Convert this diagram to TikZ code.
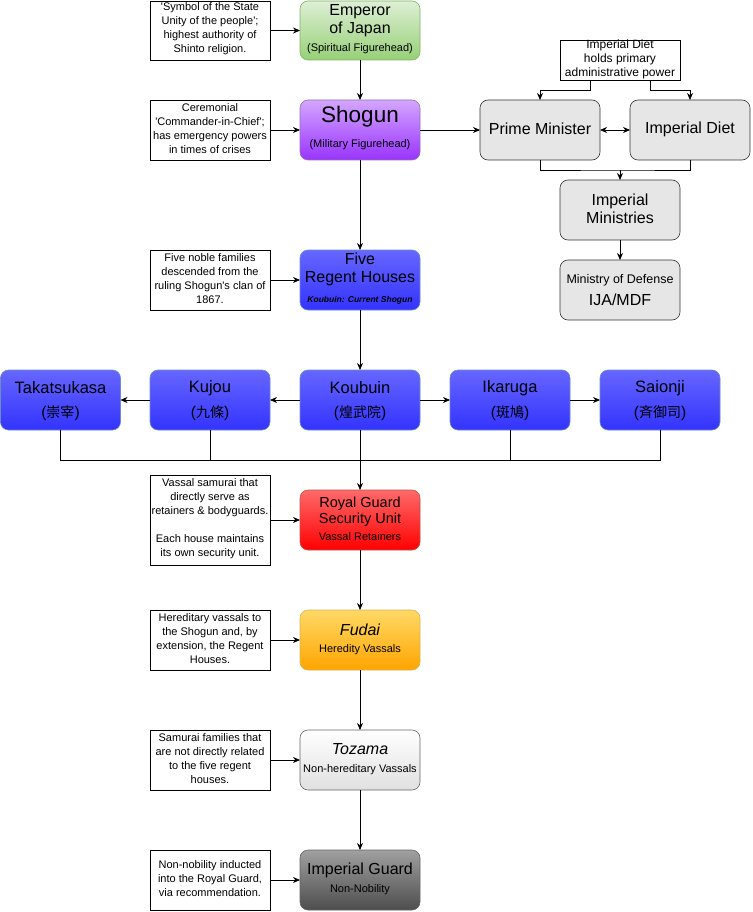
\documentclass[tikz,border=0pt]{standalone}
\usepackage{fontspec}
\setmainfont{Liberation Sans}
\newfontfamily\qfont{Liberation Sans}
\newfontfamily\cjk{Noto Sans CJK JP}
\usetikzlibrary{arrows.meta}
\definecolor{gTop}{HTML}{DDEFD5}
\definecolor{gBot}{HTML}{97D077}
\definecolor{gBrd}{HTML}{82B366}
\definecolor{pTop}{HTML}{D4A6FF}
\definecolor{pBot}{HTML}{9933FF}
\definecolor{pBrd}{HTML}{9673A6}
\definecolor{bTop}{HTML}{6666FF}
\definecolor{bBot}{HTML}{3333FF}
\definecolor{bBrd}{HTML}{6C8EBF}
\definecolor{rTop}{HTML}{FF6A6A}
\definecolor{rBot}{HTML}{FF0000}
\definecolor{rBrd}{HTML}{B85450}
\definecolor{yTop}{HTML}{FFD966}
\definecolor{yBot}{HTML}{FFA500}
\definecolor{yBrd}{HTML}{D6B656}
\definecolor{wTop}{HTML}{FFFFFF}
\definecolor{wBot}{HTML}{E0E0E0}
\definecolor{kTop}{HTML}{A0A0A0}
\definecolor{kBot}{HTML}{4D4D4D}
\definecolor{grayBrd}{HTML}{666666}
\definecolor{lgray}{HTML}{E6E6E6}
\newcommand{\sq}{{\qfont'}}
\tikzset{
  mainbox/.style={rounded corners=8pt, minimum width=120, minimum height=60, inner sep=0pt, outer sep=0pt, line width=0.6pt},
  greybox/.style={mainbox, draw=black!80, fill=lgray},
  notebox/.style={draw, fill=white, minimum width=120, minimum height=60, inner sep=0pt, outer sep=0pt, line width=0.7pt},
  notetext/.style={font=\fontsize{11}{14}\selectfont, align=center, inner sep=0pt},
  ttl/.style={font=\fontsize{16}{18.5}\selectfont, align=center, inner sep=0pt},
  bigttl/.style={font=\fontsize{22.5}{24}\selectfont, align=center, inner sep=0pt},
  sub/.style={font=\fontsize{11}{12}\selectfont, align=center, inner sep=0pt},
  arr/.style={-{Stealth[length=7pt,width=6pt]}, line width=0.7pt},
  ln/.style={line width=0.7pt},
}
\begin{document}
\begin{tikzpicture}[x=1pt,y=-1pt]
\useasboundingbox (0,0) rectangle (752,912);
% main column
\node[mainbox, draw=gBrd, top color=gTop, bottom color=gBot] (emp) at (360,30.5) [minimum height=59] {};
\node[ttl] (empt) at (360,20.5) {Emperor\\of Japan};
\node[sub] (emps) at (360,49) {(Spiritual Figurehead)};

\node[mainbox, draw=pBrd, top color=pTop, bottom color=pBot] (sho) at (360,130) {};
\node[bigttl] (shot) at (360,117) {Shogun};
\node[sub] (shos) at (360,145) {(Military Figurehead)};

\node[mainbox, draw=bBrd, top color=bTop, bottom color=bBot] (frh) at (360,280) {};
\node[ttl] (frht) at (360,269.5) {Five\\Regent Houses};
\node[sub, font=\fontsize{8.5}{10}\selectfont\bfseries\itshape] (frhs) at (360,300) {Koubuin: Current Shogun};

% houses
\foreach \nm/\x/\en/\jp in {tak/60.5/Takatsukasa/崇宰, kuj/210/Kujou/九條, kou/360/Koubuin/煌武院, ika/510/Ikaruga/斑鳩, sai/660/Saionji/斉御司}{
  \node[mainbox, draw=bBrd, top color=bTop, bottom color=bBot] (\nm) at (\x,400) {};
  \node[ttl, font=\fontsize{16.5}{18}\selectfont] (\nm t) at (\x,388) {\en};
  \node[ttl, font=\fontsize{15.5}{17}\selectfont] (\nm j) at (\x,413) {({\cjk\fontsize{14}{16}\selectfont\jp})};
}

\node[mainbox, draw=rBrd, top color=rTop, bottom color=rBot] (rg) at (360,520) {};
\node[ttl, font=\fontsize{14.5}{16}\selectfont] (rgt) at (360,512) {Royal Guard\\Security Unit};
\node[sub] (rgs) at (360,537) {Vassal Retainers};

\node[mainbox, draw=yBrd, top color=yTop, bottom color=yBot] (fud) at (360,640) {};
\node[ttl, font=\fontsize{16}{18}\selectfont\itshape] (fudt) at (360,630) {Fudai};
\node[sub] (fuds) at (360,650) {Heredity Vassals};

\node[mainbox, draw=grayBrd, top color=wTop, bottom color=wBot] (toz) at (360,760) {};
\node[ttl, font=\fontsize{16}{18}\selectfont\itshape] (tozt) at (360,749) {Tozama};
\node[sub] (tozs) at (360,770) {Non-hereditary Vassals};

\node[mainbox, draw=grayBrd, top color=kTop, bottom color=kBot] (ig) at (360,880) {};
\node[ttl] (igt) at (360,870) {Imperial Guard};
\node[sub] (igs) at (360,890) {Non-Nobility};

% notes
\node[notebox] (n1) at (210,30.5) [minimum height=59] {};
\node[notetext] (n1t) at (210,29) {\sq Symbol of the State\\Unity of the people\sq;\\highest authority of\\Shinto religion.};
\node[notebox] (n2) at (210,130) {};
\node[notetext] (n2t) at (210,129) {Ceremonial\\\sq Commander-in-Chief\sq;\\has emergency powers\\in times of crises};
\node[notebox] (n3) at (210,280) {};
\node[notetext] (n3t) at (210,279) {Five noble families\\descended from the\\ruling Shogun\sq s clan of\\1867.};
\node[notebox, minimum height=90] (n4) at (210,520) {};
\node[notetext] (n4t) at (210,519) {Vassal samurai that\\directly serve as\\retainers \& bodyguards.\\[14pt]Each house maintains\\its own security unit.};
\node[notebox] (n5) at (210,640) {};
\node[notetext] (n5t) at (210,639) {Hereditary vassals to\\the Shogun and, by\\extension, the Regent\\Houses.};
\node[notebox] (n6) at (210,760) {};
\node[notetext] (n6t) at (210,759) {Samurai families that\\are not directly related\\to the five regent\\houses.};
\node[notebox] (n7) at (210,880) {};
\node[notetext] (n7t) at (210,879) {Non-nobility inducted\\into the Royal Guard,\\via recommendation.};

% right side
\node[notebox, minimum height=40] (dn) at (620,60) {};
\node[notetext, font=\fontsize{12}{14}\selectfont] (dnt) at (620,59) {Imperial Diet\\holds primary\\administrative power};
\node[greybox] (pm) at (540,130) {};
\node[ttl] (pmt) at (540,129) {Prime Minister};
\node[greybox] (diet) at (690,130) {};
\node[ttl] (diett) at (690,129) {Imperial Diet};
\node[greybox] (min) at (620,210) {};
\node[ttl] (mint) at (620,209) {Imperial\\Ministries};
\node[greybox] (mod) at (620,290) {};
\node[ttl, font=\fontsize{12.5}{14}\selectfont] (modt) at (620,280) {Ministry of Defense};
\node[ttl] (modt2) at (620,300) {IJA/MDF};

% connectors main column
\draw[arr] (emp) -- (sho);
\draw[arr] (sho) -- (frh);
\draw[arr] (frh) -- (kou);
\draw[arr] (kou) -- (kuj);
\draw[arr] (kuj) -- (tak);
\draw[arr] (kou) -- (ika);
\draw[arr] (ika) -- (sai);
\coordinate (bus) at (360,460);
\draw[ln] (tak.south) |- (bus);
\draw[ln] (kuj.south) |- (bus);
\draw[ln] (ika.south) |- (bus);
\draw[ln] (sai.south) |- (bus);
\draw[arr] (kou) -- (rg);
\draw[arr] (rg) -- (fud);
\draw[arr] (fud) -- (toz);
\draw[arr] (toz) -- (ig);
% notes arrows
\foreach \a/\b in {n1/emp, n2/sho, n3/frh, n4/rg, n5/fud, n6/toz, n7/ig}{
  \draw[arr] (\a) -- (\b);
}
% right side connectors
\draw[arr] (sho) -- (pm);
\draw[{Stealth[length=7pt,width=6pt]}-{Stealth[length=7pt,width=6pt]}, line width=0.7pt] (pm) -- (diet);
\draw[arr] ([xshift=-30pt]dn.south) -- ++(0,10) -| (pm.north);
\draw[arr] ([xshift=30pt]dn.south) -- ++(0,10) -| (diet.north);
\coordinate (jn) at (620,170);
\draw[ln] (pm.south) |- (jn) -| (diet.south);
\draw[arr] (jn) -- (min);
\draw[arr] (min) -- (mod);
\end{tikzpicture}
\end{document}
